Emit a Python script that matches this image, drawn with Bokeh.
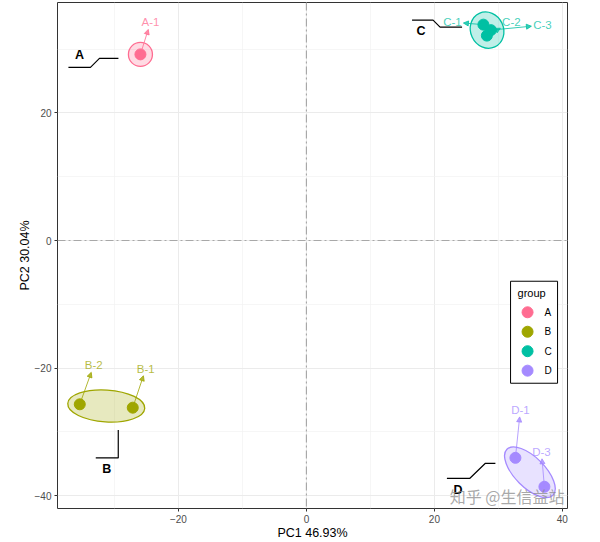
import numpy as np
from bokeh.plotting import figure
from bokeh.models import Span, Arrow, NormalHead, FixedTicker, Label
from bokeh.core.properties import value
from bokeh.embed import file_html
from bokeh.resources import INLINE

# ---------------- data ----------------
samples = ["A-1", "B-1", "B-2", "C-1", "C-2", "C-3", "D-1", "D-3"]
groups = ["A", "B", "B", "C", "C", "C", "D", "D"]
pc1 = [-25.94, -27.14, -35.42, 27.66, 28.20, 28.83, 32.66, 37.19]
pc2 = [29.17, -26.20, -25.67, 33.83, 32.11, 32.97, -34.06, -38.59]

group_names = ["A", "B", "C", "D"]
group_colors = ["#FF6C91", "#9FA600", "#00C0A3", "#A58AFF"]

x_ticks = [-20, 0, 20, 40]
y_ticks = [-40, -20, 0, 20]
minor_ticks = [-30, -10, 10, 30]
x_title = "PC1 46.93%"
y_title = "PC2 30.04%"
legend_title = "group"
watermark = "知乎 @生信益站"

# ---------------- layout / style ----------------
W, H = 600, 542
ML, MR, MT, MB = 57, 33, 2, 31
FW, FH = W - ML - MR, H - MT - MB - 2
XR = (-38.9, 40.8)
YR = (-42.0, 37.3)
sx = FW / (XR[1] - XR[0])
sy = FH / (YR[1] - YR[0])
FONT = "Liberation Sans"

# label offsets in screen px (dx right, dy down)
label_off = {"A-1": (10, -32), "B-1": (13, -39), "B-2": (14, -39),
             "C-1": (-31, -2.5), "C-2": (24.5, -13.5), "C-3": (51.5, -5),
             "D-1": (5, -48), "D-3": (-3, -35)}
# group label connector paths (screen px relative to group centre, y down)
conn = {
    "A": ([(-72, 13), (-50, 13), (-41, 4), (-22, 4)], (-61, 1)),
    "B": ([(12, 24), (12, 52), (-10.5, 52)], (0.5, 63)),
    "C": ([(-75, -10), (-54, -10), (-47, -3), (-25, -3)], (-66, 1)),
    "D": ([(-83, 6), (-60, 6), (-44.5, -9), (-34.5, -9)], (-72, 18)),
}
PAD = 12.0
LEG_ANCHOR = (31.9, -6.4)     # top-left of legend box (data units)
LEG_W, LEG_H = 47, 102        # px


def off(x, y, dx, dy):
    """shift a data point by screen pixels (dy down)"""
    return x + dx / sx, y - dy / sy


p = figure(width=W, height=H, x_range=XR, y_range=YR,
           output_backend="svg", toolbar_location=None,
           min_border_left=ML, min_border_right=MR,
           min_border_top=MT, min_border_bottom=MB)
p.background_fill_color = "white"
p.border_fill_color = "white"
p.outline_line_color = "#333333"
p.outline_line_width = 1

for ax, ticks, title in ((p.xaxis[0], x_ticks, x_title), (p.yaxis[0], y_ticks, y_title)):
    ax.ticker = FixedTicker(ticks=ticks, minor_ticks=minor_ticks)
    ax.axis_label = title
    ax.axis_label_text_font = FONT
    ax.axis_label_text_font_size = "12.5px"
    ax.axis_label_text_font_style = "normal"
    ax.axis_label_text_color = "black"
    ax.axis_label_standoff = 0
    ax.major_label_text_font = FONT
    ax.major_label_text_font_size = "10px"
    ax.major_label_text_color = "#4D4D4D"
    ax.major_label_standoff = 2
    ax.axis_line_color = None
    ax.major_tick_line_color = "#333333"
    ax.major_tick_in = 0
    ax.major_tick_out = 3
    ax.minor_tick_line_color = None

for g in (p.xgrid[0], p.ygrid[0]):
    g.grid_line_color = "#EBEBEB"
    g.grid_line_width = 1
    g.minor_grid_line_color = "#F2F2F2"
    g.minor_grid_line_width = 0.7

for dim in ("height", "width"):
    p.add_layout(Span(location=0, dimension=dim, line_color="#A8A8A8",
                      line_dash="8 3 2 3", line_width=1.2, level="underlay"))

pc1a = np.array(pc1)
pc2a = np.array(pc2)
garr = np.array(groups)

# ellipses
centres = {}
for g, c in zip(group_names, group_colors):
    m = garr == g
    px = np.column_stack([pc1a[m] * sx, pc2a[m] * sy])
    cen = px.mean(axis=0)
    centres[g] = (cen[0] / sx, cen[1] / sy)
    if len(px) == 1:
        a = b = PAD
        ang = 0.0
    else:
        d = px - cen
        _, _, vt = np.linalg.svd(d)
        v1, v2 = vt[0], vt[1]
        p1 = np.abs(d @ v1).max()
        p2 = np.abs(d @ v2).max()
        a = p1 + PAD
        b = p2 + PAD + 0.15 * p1
        ang = float(np.arctan2(v1[1], v1[0]))
    p.ellipse(x=[cen[0] / sx], y=[cen[1] / sy], width=[2 * a], height=[2 * b],
              angle=[ang], width_units="screen", height_units="screen",
              fill_color=c, fill_alpha=0.25, line_color=c, line_width=1.3)

# repel-style labels with arrows
cmap = dict(zip(group_names, group_colors))
for s, g, x, y in zip(samples, groups, pc1, pc2):
    c = cmap[g]
    dx, dy = label_off[s]
    lx, ly = off(x, y, dx, dy)
    hw, hh = 11.0, 7.0
    t = min(hw / abs(dx) if dx else 1e9, hh / abs(dy) if dy else 1e9)
    f = max(0.0, 1 - t)
    ex, ey = off(x, y, dx * f, dy * f)
    p.add_layout(Arrow(end=NormalHead(size=5, fill_color=c, line_color=c, fill_alpha=0.8, line_alpha=0.8),
                       x_start=x, y_start=y, x_end=ex, y_end=ey,
                       line_color=c, line_width=1, line_alpha=0.8))
    p.text(x=[lx], y=[ly], text=[s], text_font=value(FONT), text_font_size="11.5px",
           text_color=c, text_alpha=0.75, text_align="center", text_baseline="middle")

# points
for g, c in zip(group_names, group_colors):
    m = garr == g
    p.scatter(x=pc1a[m], y=pc2a[m], size=11, marker="circle",
              fill_color=c, line_color=c)

# group labels with elbow connectors
for g in group_names:
    cx, cy = centres[g]
    path, lab = conn[g]
    pts = [off(cx, cy, u, v) for u, v in path]
    p.line([q[0] for q in pts], [q[1] for q in pts], line_color="black", line_width=1.2)
    lx, ly = off(cx, cy, *lab)
    p.text(x=[lx], y=[ly], text=[g], text_font=value(FONT),
           text_font_size="12.5px", text_font_style="bold", text_color="black",
           text_align="center", text_baseline="middle")

# legend (drawn as a boxed key inside the panel)
ax0, ay0 = LEG_ANCHOR
bx, by = off(ax0, ay0, LEG_W / 2, LEG_H / 2)
p.rect(x=[bx], y=[by], width=[LEG_W], height=[LEG_H], width_units="screen",
       height_units="screen", fill_color="white", line_color="black", line_width=1)
tx, ty = off(ax0, ay0, 7, 12)
p.text(x=[tx], y=[ty], text=[legend_title], text_font=value(FONT), text_font_size="11px",
       text_color="black", text_align="left", text_baseline="middle")
kx, ky, lx_, ly_ = [], [], [], []
for i, g in enumerate(group_names):
    a_, b_ = off(ax0, ay0, 17, 31 + 19.5 * i)
    c_, d_ = off(ax0, ay0, 34, 31 + 19.5 * i)
    kx.append(a_); ky.append(b_); lx_.append(c_); ly_.append(d_)
p.scatter(x=kx, y=ky, size=11, marker="circle", fill_color=group_colors, line_color=group_colors)
p.text(x=lx_, y=ly_, text=group_names, text_font=value(FONT), text_font_size="10px",
       text_color="black", text_align="left", text_baseline="middle")

# watermark, kept inside the bottom-right corner of the panel
p.add_layout(Label(x=FW - 3, y=1, x_units="screen", y_units="screen",
                   text=watermark, text_font="Noto Sans CJK SC",
                   text_font_size="16px", text_color="#8C8C8C", text_alpha=0.75,
                   text_align="right", text_baseline="bottom"))

open("out.html", "w").write(file_html(p, INLINE))
